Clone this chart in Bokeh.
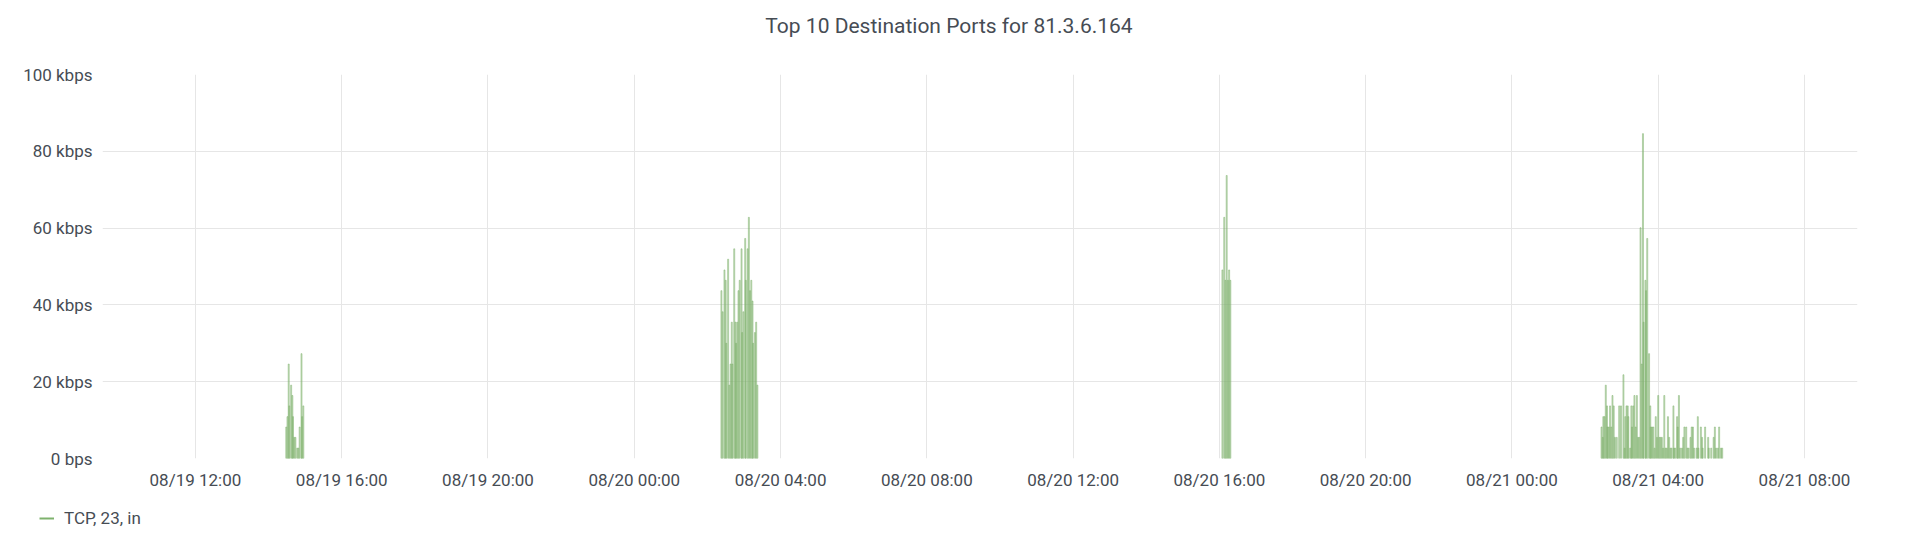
import pandas as pd
from bokeh.plotting import figure
from bokeh.layouts import column
from bokeh.models import (Range1d, FixedTicker, DatetimeTickFormatter, Label,
                          Legend, LegendItem, ColumnDataSource)
from bokeh.embed import file_html
from bokeh.resources import INLINE

# ---------------- data ----------------
series_name = "TCP, 23, in"
title_text = "Top 10 Destination Ports for 81.3.6.164"

times_c1 = ["2019-08-19 14:29", "2019-08-19 14:31", "2019-08-19 14:33", "2019-08-19 14:34",
            "2019-08-19 14:37", "2019-08-19 14:39", "2019-08-19 14:40", "2019-08-19 14:42",
            "2019-08-19 14:44", "2019-08-19 14:47", "2019-08-19 14:49", "2019-08-19 14:51",
            "2019-08-19 14:54", "2019-08-19 14:55", "2019-08-19 14:57"]
kbps_c1 = [8.2, 10.9, 24.6, 13.7, 19.1, 16.4, 10.9, 5.5, 5.5, 2.7, 2.7, 8.2, 27.3, 10.9, 13.7]

times_c2 = ["2019-08-20 02:23", "2019-08-20 02:25", "2019-08-20 02:28", "2019-08-20 02:30",
            "2019-08-20 02:31", "2019-08-20 02:34", "2019-08-20 02:36", "2019-08-20 02:38",
            "2019-08-20 02:40", "2019-08-20 02:41", "2019-08-20 02:44", "2019-08-20 02:46",
            "2019-08-20 02:47", "2019-08-20 02:49", "2019-08-20 02:51", "2019-08-20 02:53",
            "2019-08-20 02:56", "2019-08-20 02:57", "2019-08-20 02:59", "2019-08-20 03:02",
            "2019-08-20 03:03", "2019-08-20 03:06", "2019-08-20 03:08", "2019-08-20 03:10",
            "2019-08-20 03:12", "2019-08-20 03:14", "2019-08-20 03:15", "2019-08-20 03:18",
            "2019-08-20 03:20", "2019-08-20 03:22"]
kbps_c2 = [43.7, 38.2, 49.1, 46.4, 30.0, 51.9, 19.1, 24.6, 35.5, 24.6, 54.6, 35.5, 30.0, 35.5,
           43.7, 46.4, 54.6, 32.8, 38.2, 57.3, 46.4, 54.6, 62.8, 43.7, 46.4, 41.0, 30.0, 32.8,
           35.5, 19.1]

times_c3 = ["2019-08-20 16:05", "2019-08-20 16:08", "2019-08-20 16:10", "2019-08-20 16:12",
            "2019-08-20 16:14", "2019-08-20 16:16", "2019-08-20 16:18"]
kbps_c3 = [49.1, 62.8, 46.4, 73.7, 46.4, 49.1, 46.4]

times_c4 = ["2019-08-21 02:27", "2019-08-21 02:29", "2019-08-21 02:30", "2019-08-21 02:32",
            "2019-08-21 02:34", "2019-08-21 02:36", "2019-08-21 02:37", "2019-08-21 02:39",
            "2019-08-21 02:41", "2019-08-21 02:43", "2019-08-21 02:45", "2019-08-21 02:47",
            "2019-08-21 02:49", "2019-08-21 02:52", "2019-08-21 02:56", "2019-08-21 02:59",
            "2019-08-21 03:03", "2019-08-21 03:05", "2019-08-21 03:06", "2019-08-21 03:08",
            "2019-08-21 03:10", "2019-08-21 03:11", "2019-08-21 03:14", "2019-08-21 03:16",
            "2019-08-21 03:17", "2019-08-21 03:19", "2019-08-21 03:21", "2019-08-21 03:23",
            "2019-08-21 03:25", "2019-08-21 03:27", "2019-08-21 03:29",
            "2019-08-21 03:31", "2019-08-21 03:33", "2019-08-21 03:35", "2019-08-21 03:36",
            "2019-08-21 03:39", "2019-08-21 03:40", "2019-08-21 03:42", "2019-08-21 03:45",
            "2019-08-21 03:47", "2019-08-21 03:48", "2019-08-21 03:50", "2019-08-21 03:52",
            "2019-08-21 03:54", "2019-08-21 03:56", "2019-08-21 03:58", "2019-08-21 04:00",
            "2019-08-21 04:02", "2019-08-21 04:04", "2019-08-21 04:06", "2019-08-21 04:08",
            "2019-08-21 04:10", "2019-08-21 04:12", "2019-08-21 04:14", "2019-08-21 04:16",
            "2019-08-21 04:18", "2019-08-21 04:20", "2019-08-21 04:22", "2019-08-21 04:25",
            "2019-08-21 04:26", "2019-08-21 04:28", "2019-08-21 04:31", "2019-08-21 04:32",
            "2019-08-21 04:34", "2019-08-21 04:36", "2019-08-21 04:39", "2019-08-21 04:41",
            "2019-08-21 04:43", "2019-08-21 04:46", "2019-08-21 04:48", "2019-08-21 04:50",
            "2019-08-21 04:53", "2019-08-21 04:55", "2019-08-21 04:57", "2019-08-21 04:59",
            "2019-08-21 05:03", "2019-08-21 05:05", "2019-08-21 05:06", "2019-08-21 05:10",
            "2019-08-21 05:12", "2019-08-21 05:13", "2019-08-21 05:17", "2019-08-21 05:22",
            "2019-08-21 05:23", "2019-08-21 05:27", "2019-08-21 05:31", "2019-08-21 05:33",
            "2019-08-21 05:35", "2019-08-21 05:38", "2019-08-21 05:40", "2019-08-21 05:43",
            "2019-08-21 05:45"]
kbps_c4 = [8.2, 5.5, 10.9, 10.9, 19.1, 13.7, 8.2, 8.2, 13.7, 8.2, 16.4, 13.7, 5.5, 5.5, 13.7,
           13.7, 21.8, 2.7, 10.9, 13.7, 13.7, 10.9, 2.7, 13.7, 8.2, 13.7, 16.4, 8.2, 16.4, 5.5,
           5.5,
           60.1, 24.6, 84.6, 35.5, 46.4, 43.7, 57.3, 27.3, 13.7, 8.2, 8.2, 8.2, 2.7, 10.9, 5.5,
           16.4, 5.5, 5.5, 5.5, 2.7, 16.4, 2.7, 2.7, 10.9, 5.5, 2.7, 2.7, 13.7, 2.7, 2.7, 10.9,
           8.2, 16.4, 2.7, 2.7, 5.5, 8.2, 8.2, 2.7, 2.7, 5.5, 8.2, 8.2, 2.7, 2.7, 10.9, 2.7, 8.2,
           5.5, 2.7, 8.2, 5.5, 2.7, 2.7, 5.5, 8.2, 2.7, 2.7, 8.2, 2.7, 2.7]

y_ticks = [0, 20, 40, 60, 80, 100]
y_tick_labels = ["0 bps", "20 kbps", "40 kbps", "60 kbps", "80 kbps", "100 kbps"]
x_ticks = ["2019-08-19 12:00", "2019-08-19 16:00", "2019-08-19 20:00", "2019-08-20 00:00",
           "2019-08-20 04:00", "2019-08-20 08:00", "2019-08-20 12:00", "2019-08-20 16:00",
           "2019-08-20 20:00", "2019-08-21 00:00", "2019-08-21 04:00", "2019-08-21 08:00"]
x_start = "2019-08-19 09:27:30"
x_end = "2019-08-21 09:27:00"

# ---------------- build ----------------
GREEN = "#7EB26D"
TEXT = "#464c54"
GRID = "#e6e6e6"
W = 1929
TOP_H, MAIN_H, LEG_H = 40, 465, 47


def bare_figure(height):
    f = figure(width=W, height=height, output_backend="svg", toolbar_location=None,
               x_range=Range1d(0, 1), y_range=Range1d(0, 1), min_border=0,
               x_axis_location=None, y_axis_location=None, frame_align=False)
    f.grid.visible = False
    f.outline_line_color = None
    f.border_fill_color = "white"
    f.background_fill_color = "white"
    return f


times = pd.to_datetime(times_c1 + times_c2 + times_c3 + times_c4)
vals = kbps_c1 + kbps_c2 + kbps_c3 + kbps_c4
src = ColumnDataSource(dict(t=times, v=vals))

# header with the panel title
head = bare_figure(TOP_H)
head.add_layout(Label(x=948.5, y=TOP_H - 25, x_units="screen", y_units="screen",
                      text=title_text, text_align="center", text_baseline="middle",
                      text_font="Roboto", text_font_size="21px", text_color=TEXT))

# main chart
p = figure(width=W, height=MAIN_H, x_axis_type="datetime", output_backend="svg",
           toolbar_location=None, min_border_left=102, min_border_right=72,
           min_border_top=34, min_border_bottom=47, frame_align=False,
           x_range=Range1d(pd.Timestamp(x_start), pd.Timestamp(x_end)),
           y_range=Range1d(0, 100))
p.outline_line_color = None
p.background_fill_color = "white"
p.border_fill_color = "white"

p.vbar(x="t", top="v", bottom=0, width=100000, source=src,
       fill_color=GREEN, fill_alpha=0.4, line_color=GREEN, line_alpha=0.85, line_width=0.6)

ms = lambda s: pd.Timestamp(s).value // 10**6
p.xaxis.ticker = FixedTicker(ticks=[ms(s) for s in x_ticks])
fmt = "%m/%d %H:%M"
p.xaxis.formatter = DatetimeTickFormatter(microseconds=fmt, milliseconds=fmt, seconds=fmt,
                                          minsec=fmt, minutes=fmt, hourmin=fmt, hours=fmt,
                                          days=fmt, months=fmt, years=fmt)
p.yaxis.ticker = FixedTicker(ticks=y_ticks)
p.yaxis.major_label_overrides = {t: l for t, l in zip(y_ticks, y_tick_labels)}

for ax in (p.xaxis[0], p.yaxis[0]):
    ax.axis_line_color = None
    ax.major_tick_line_color = None
    ax.minor_tick_line_color = None
    ax.major_tick_out = 0
    ax.major_tick_in = 0
    ax.major_label_text_font = "Roboto"
    ax.major_label_text_font_size = "17px"
    ax.major_label_text_color = TEXT
p.yaxis.major_label_standoff = 10
p.xaxis.major_label_standoff = 11

p.xgrid.grid_line_color = GRID
p.ygrid.grid_line_color = GRID

# legend strip (the series line is drawn off-range here, only its legend swatch shows)
foot = bare_figure(LEG_H)
leg_r = foot.line(x="t", y="v", source=src, line_color=GREEN, line_width=2)
legend = Legend(items=[LegendItem(label=series_name, renderers=[leg_r])],
                location=(39, LEG_H - 23), orientation="horizontal",
                border_line_color=None, background_fill_alpha=0, padding=0, margin=0,
                glyph_width=15, glyph_height=20, label_standoff=10, label_height=20,
                label_text_font="Roboto", label_text_font_size="17px",
                label_text_color=TEXT)
foot.add_layout(legend)

page = column(head, p, foot, spacing=0)
open("out.html", "w").write(file_html(page, INLINE))
